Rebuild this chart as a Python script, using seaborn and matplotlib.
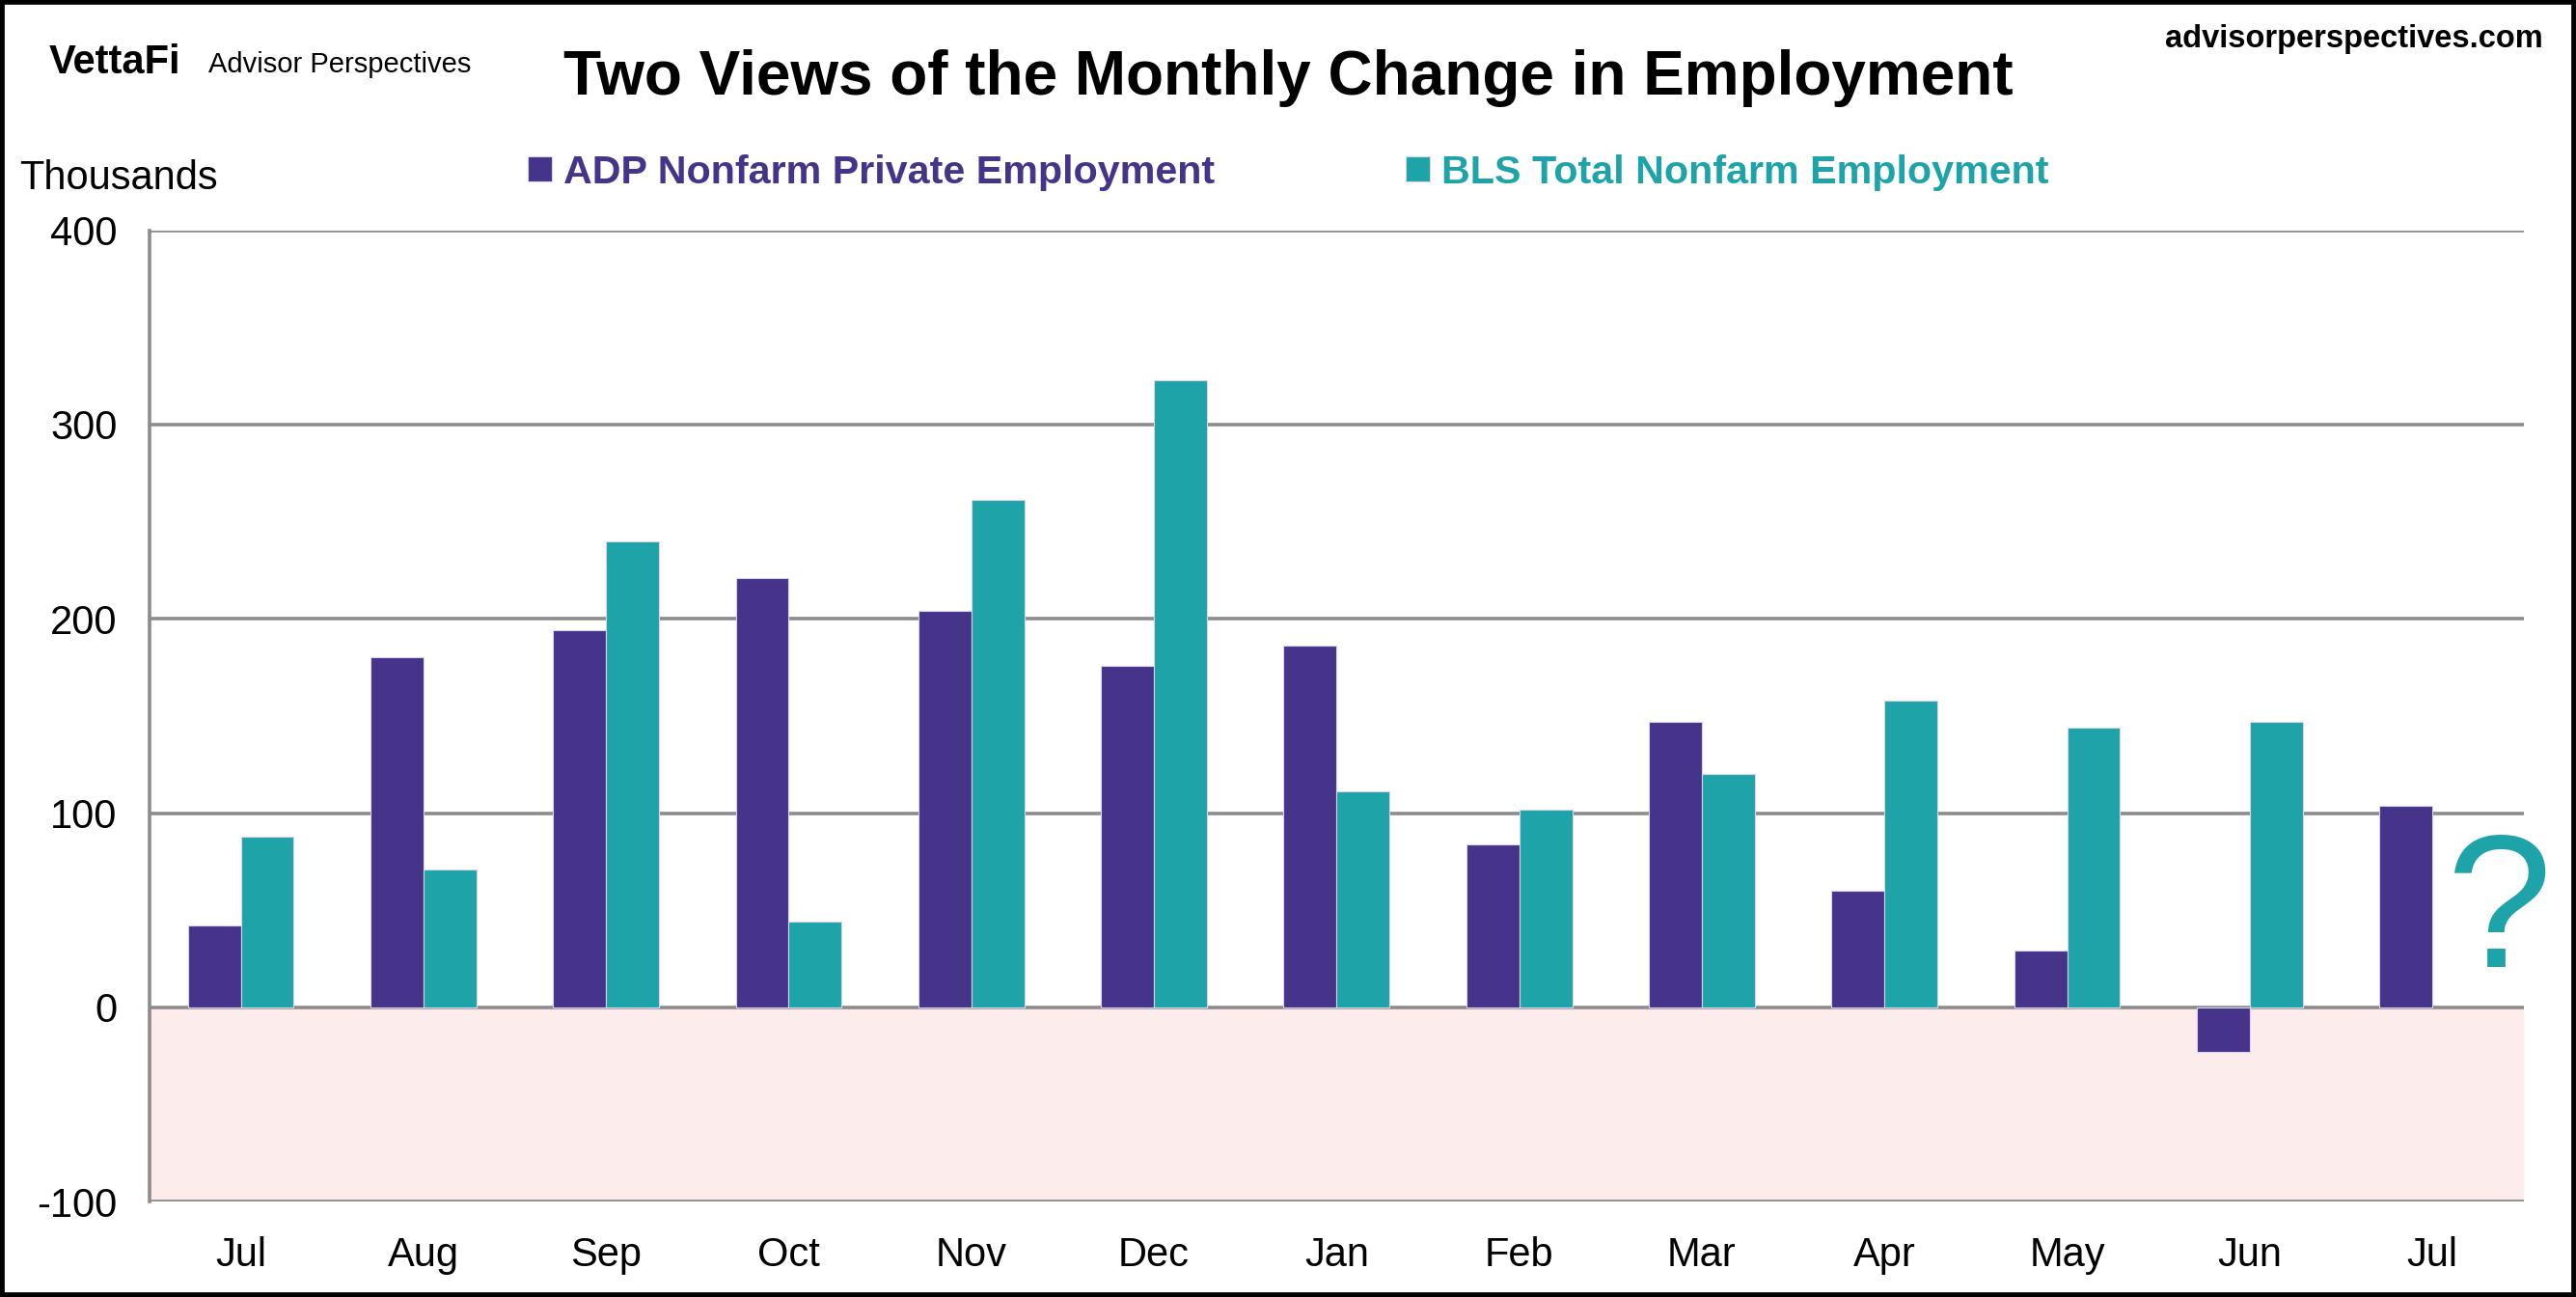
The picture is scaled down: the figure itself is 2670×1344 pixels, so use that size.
import numpy as np
import pandas as pd
import matplotlib
matplotlib.use("Agg")
import matplotlib.pyplot as plt
from matplotlib.patches import Rectangle
import seaborn as sns

# ---- data ----
periods = ["2024-07", "2024-08", "2024-09", "2024-10", "2024-11", "2024-12",
           "2025-01", "2025-02", "2025-03", "2025-04", "2025-05", "2025-06", "2025-07"]
month_labels = ["Jul", "Aug", "Sep", "Oct", "Nov", "Dec", "Jan", "Feb", "Mar",
                "Apr", "May", "Jun", "Jul"]
adp = [42, 180, 194, 221, 204, 176, 186, 84, 147, 60, 29, -23, 104]
bls = [88, 71, 240, 44, 261, 323, 111, 102, 120, 158, 144, 147, np.nan]
series_names = ["ADP Nonfarm Private Employment", "BLS Total Nonfarm Employment"]
y_ticks = [-100, 0, 100, 200, 300, 400]

PURPLE = "#46338A"
TEAL = "#1EA4A8"
PINK = "#FCECEC"
GRID = "#8C8C8C"

df = pd.DataFrame({
    "period": periods * 2,
    "value": adp + bls,
    "series": [series_names[0]] * len(periods) + [series_names[1]] * len(periods),
})

sns.set_theme(style="white")
plt.rcParams["font.family"] = ["Liberation Sans", "DejaVu Sans"]

fig = plt.figure(figsize=(26.7, 13.44), dpi=100)
ax = fig.add_axes([0.058, 0.0735, 0.9217, 0.749])

ax.axhspan(-100, 0, color=PINK, zorder=0, lw=0)
for yv in y_ticks:
    ax.axhline(yv, color=GRID, lw=2.6, zorder=1)

sns.barplot(data=df, x="period", y="value", hue="series", order=periods,
            hue_order=series_names, palette=[PURPLE, TEAL], saturation=1,
            errorbar=None, width=0.58, edgecolor="#D8D4EE", linewidth=0.8,
            ax=ax, zorder=3)

ax.set_xlim(-0.5, len(periods) - 0.5)
ax.set_ylim(-100, 400)
ax.set_yticks(y_ticks)
ax.set_yticklabels([str(v) for v in y_ticks], fontsize=30, color="black")
ax.set_xticks(range(len(periods)))
ax.set_xticklabels(month_labels, fontsize=30, color="black")
ax.tick_params(axis="x", length=0, pad=26)
ax.tick_params(axis="y", length=0, pad=24)
ax.set_xlabel("")
ax.set_ylabel("")
for s in ["top", "right", "bottom"]:
    ax.spines[s].set_visible(False)
ax.spines["left"].set_color(GRID)
ax.spines["left"].set_linewidth(2.6)
ax.set_facecolor("none")

# legend
handles, labels = ax.get_legend_handles_labels()
leg = fig.legend(handles, labels, loc="center left", bbox_to_anchor=(0.191, 0.867),
                 ncol=2, frameon=False, handlelength=0.6, handleheight=0.6,
                 handletextpad=0.3, columnspacing=4.8,
                 prop={"weight": "bold", "size": 29.7})
for txt, c in zip(leg.get_texts(), [PURPLE, TEAL]):
    txt.set_color(c)
if ax.get_legend() is not None:
    ax.get_legend().remove()

# question mark for missing value
ax.text(12.37, 46, "?", color=TEAL, fontsize=142, ha="center", va="center", zorder=4)

# texts
fig.text(0.5, 0.94, "Two Views of the Monthly Change in Employment", ha="center",
         va="center", fontsize=46, fontweight="bold", color="black")
fig.text(0.0075, 0.862, "Thousands", ha="left", va="center", fontsize=30, color="black")
fig.text(0.019, 0.952, "VettaFi", ha="left", va="center", fontsize=30,
         fontweight="bold", color="black")
fig.text(0.081, 0.950, "Advisor Perspectives", ha="left", va="center", fontsize=21,
         color="black")
fig.text(0.987, 0.970, "advisorperspectives.com", ha="right", va="center", fontsize=23.5,
         fontweight="bold", color="black")

fig.patches.append(Rectangle((0, 0), 1, 1, transform=fig.transFigure, fill=False,
                             edgecolor="black", lw=7, zorder=10))

fig.savefig("out.png", dpi=100, facecolor="white")
